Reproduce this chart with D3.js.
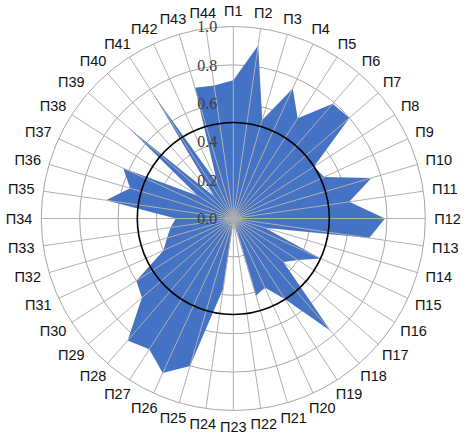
<!DOCTYPE html>
<html>
<head>
<meta charset="utf-8">
<script src="https://cdn.jsdelivr.net/npm/d3@7"></script>
<style>
  body { margin: 0; background: #fff; }
</style>
</head>
<body>
<div id="my_dataviz"></div>
<script>
// chart data
const categories = ["П1", "П2", "П3", "П4", "П5", "П6", "П7", "П8", "П9", "П10", "П11",
  "П12", "П13", "П14", "П15", "П16", "П17", "П18", "П19", "П20", "П21", "П22",
  "П23", "П24", "П25", "П26", "П27", "П28", "П29", "П30", "П31", "П32", "П33",
  "П34", "П35", "П36", "П37", "П38", "П39", "П40", "П41", "П42", "П43", "П44"];
const values = [0.72, 0.91, 0.535, 0.745, 0.62, 0.79, 0.80, 0.50, 0.52, 0.75, 0.61,
  0.79, 0.715, 0.17, 0.50, 0.40, 0.345, 0.775, 0.50, 0.395, 0.42, 0.03,
  0.02, 0.37, 0.80, 0.885, 0.81, 0.84, 0.63, 0.60, 0.40, 0.36, 0.33,
  0.30, 0.67, 0.56, 0.63, 0.22, 0.72, 0.15, 0.765, 0.20, 0.71, 0.70];
const ticks = [0.0, 0.2, 0.4, 0.6, 0.8, 1.0];
const refLevel = [0.5];

const width = 474;
const height = 437;
const cx = 233.3;
const cy = 218.5;
const radius = 192;

const svg = d3.select("#my_dataviz")
  .append("svg")
    .attr("width", width)
    .attr("height", height)
  .append("g")
    .attr("transform", "translate(" + cx + "," + cy + ")");

const r = d3.scaleLinear().domain([0, 1]).range([0, radius]);
const angle = d3.scaleLinear().domain([0, categories.length]).range([0, 2 * Math.PI]);

// concentric grid rings
svg.selectAll(".ring")
  .data(ticks.filter(d => d > 0))
  .enter()
  .append("circle")
    .attr("r", d => r(d))
    .attr("fill", "none")
    .attr("stroke", "#a6a6a6")
    .attr("stroke-width", 1);

// the filled series
const radar = d3.lineRadial()
  .angle((d, i) => angle(i))
  .radius(d => r(d))
  .curve(d3.curveLinearClosed);

svg.append("path")
  .datum(values)
  .attr("d", radar)
  .attr("fill", "#4472C4");

// spokes on top of the fill
svg.selectAll(".spoke")
  .data(categories)
  .enter()
  .append("line")
    .attr("x1", 0)
    .attr("y1", 0)
    .attr("x2", (d, i) => r(1) * Math.sin(angle(i)))
    .attr("y2", (d, i) => -r(1) * Math.cos(angle(i)))
    .attr("stroke", "#b0b0b0")
    .attr("stroke-width", 1);

// black reference circle
svg.selectAll(".ref")
  .data(refLevel)
  .enter()
  .append("circle")
    .attr("r", d => r(d))
    .attr("fill", "none")
    .attr("stroke", "#000")
    .attr("stroke-width", 1.6);

// radial tick labels
svg.selectAll(".tick")
  .data(ticks)
  .enter()
  .append("text")
    .attr("x", -16)
    .attr("y", d => -r(d))
    .attr("dy", "0.35em")
    .attr("text-anchor", "end")
    .attr("font-family", "'Liberation Serif', 'Times New Roman', serif")
    .attr("font-size", "16px")
    .attr("fill", "#404040")
    .text(d => d3.format(".1f")(d));

// category labels, box pushed outward from the ring
const labels = svg.selectAll(".lbl")
  .data(categories)
  .enter()
  .append("text")
    .attr("text-anchor", "middle")
    .attr("dy", "0.35em")
    .attr("font-family", "'Liberation Sans', Arial, sans-serif")
    .attr("font-size", "14.5px")
    .attr("fill", "#111")
    .text(d => d);

labels.each(function(d, i) {
  const a = angle(i);
  const w = this.getComputedTextLength();
  const h = 14;
  const px = (radius + 9) * Math.sin(a);
  const py = -(radius + 9) * Math.cos(a);
  d3.select(this)
    .attr("x", px + Math.sin(a) * w / 2)
    .attr("y", py - Math.cos(a) * h / 2);
});
</script>
</body>
</html>
